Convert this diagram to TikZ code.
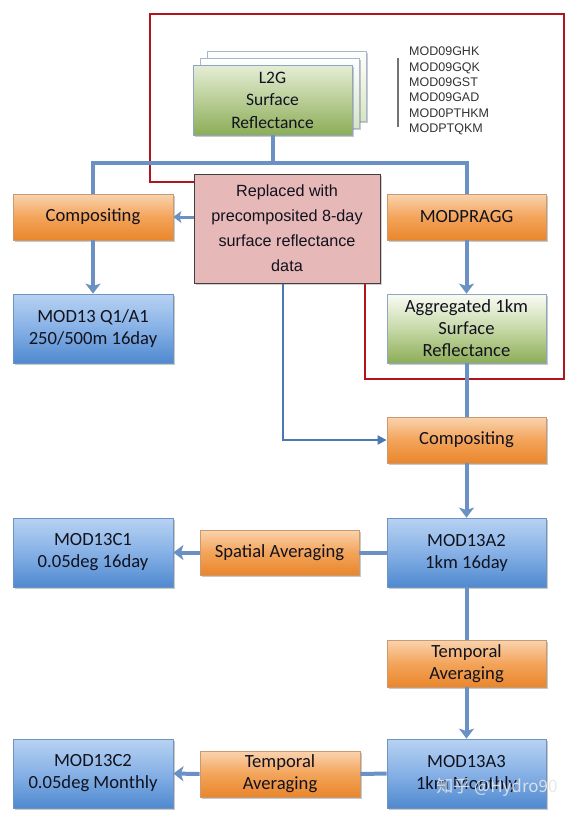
\documentclass[tikz,border=0pt]{standalone}
\usepackage{fontspec}
\setmainfont{Carlito}
\newfontfamily\arialf{Liberation Sans}
\newfontfamily\cjkf{Noto Sans CJK SC}
\usetikzlibrary{arrows.meta,shadows,calc}
\definecolor{orT}{HTML}{FAD3AE}
\definecolor{orM}{HTML}{F3A45A}
\definecolor{orB}{HTML}{E9862C}
\definecolor{orD}{HTML}{C99A70}
\definecolor{blT}{HTML}{B8D2F2}
\definecolor{blM}{HTML}{86B1E6}
\definecolor{blB}{HTML}{4F89CF}
\definecolor{blD}{HTML}{6F93C0}
\definecolor{grT}{HTML}{FAFCF5}
\definecolor{grM}{HTML}{C7D9A8}
\definecolor{grB}{HTML}{8CAD57}
\definecolor{grD}{HTML}{8EA6C4}
\definecolor{pinkF}{HTML}{E6B8B7}
\definecolor{redF}{HTML}{B0141C}
\definecolor{conn}{HTML}{6A90C4}
\definecolor{connT}{HTML}{4A78B0}
\definecolor{txt}{HTML}{12121E}
\definecolor{wmark}{HTML}{E4E6EA}
\begin{document}
\begin{tikzpicture}[x=1pt,y=-1pt,
  box/.style={line width=0.8pt, minimum width=159pt, minimum height=46pt,
    inner sep=0pt, align=center, font=\fontsize{18.6}{22}\selectfont, text=txt,
    drop shadow={shadow xshift=1.5pt, shadow yshift=-2pt, opacity=0.35, fill=black!60}},
  orbox/.style={box, draw=orD, top color=orT, bottom color=orB, middle color=orM},
  blbox/.style={box, draw=blD, minimum height=69pt, top color=blT, bottom color=blB, middle color=blM},
  grbox/.style={box, draw=grD, minimum height=69pt, top color=grT, bottom color=grB, middle color=grM},
  backbox/.style={box, draw=grD!80, minimum height=70pt, top color=white, bottom color=grM!70},
  thick line/.style={draw=conn, line width=4pt},
  arr/.style={thick line, -{Stealth[width=15pt,length=10pt,inset=2.5pt]}},
]
\useasboundingbox[fill=white] (0,0) rectangle (574,823);

% red frame
\coordinate (r1) at (194,182);
\coordinate (r2) at (150,182);
\coordinate (r3) at (150,14);
\coordinate (r4) at (564,14);
\coordinate (r5) at (564,379);
\coordinate (r6) at (365,379);
\coordinate (r7) at (365,283);
\draw[draw=redF, line width=2.5pt, line join=miter] (r1) -- (r2) -- (r3) -- (r4) -- (r5) -- (r6) -- (r7);

% L2G stack
\node[backbox] (l2gb) at (286.5,86) {};
\node[backbox] (l2gm) at (279.5,93) {};
\node[grbox, minimum height=70pt, font=\fontsize{17.5}{22.5}\selectfont, top color=grT!60!grM] (l2g) at (272.5,100) {L2G\\Surface\\Reflectance};

% product list
\draw[draw=black!55, line width=1.5pt] (398,58) coordinate (s1) -- (398,127) coordinate (s2);
\node[anchor=north west, inner sep=0pt, align=left, text=black!80,
  font=\arialf\fontsize{12.5}{15.3}\selectfont] (list) at (409,47)
  {MOD09GHK\\MOD09GQK\\MOD09GST\\MOD09GAD\\MOD0PTHKM\\MODPTQKM};

% boxes
\node[orbox, minimum width=160pt] (comp1) at (93,217) {Compositing};
\node[orbox] (modpragg) at (466.5,217) {MODPRAGG};
\node[draw=black!75, line width=1pt, fill=pinkF, minimum width=186pt, minimum height=109pt,
  inner sep=0pt, align=center, text=txt, font=\arialf\fontsize{16.2}{25}\selectfont,
  drop shadow={shadow xshift=1.5pt, shadow yshift=-2pt, opacity=0.3, fill=black!60}]
  (pink) at (287,228.5) {Replaced with\\precomposited 8-day\\surface reflectance\\data};
\node[blbox, minimum width=160pt] (q1) at (93,328.5) {MOD13 Q1/A1\\250/500m 16day};
\node[grbox] (agg) at (466.5,328.5) {Aggregated 1km\\Surface\\Reflectance};
\node[orbox] (comp2) at (466.5,440) {Compositing};
\node[blbox] (a2) at (466.5,552.5) {MOD13A2\\1km 16day};
\node[blbox, minimum width=160pt] (c1) at (93,552.5) {MOD13C1\\0.05deg 16day};
\node[orbox, minimum height=45pt] (spatial) at (279.5,552.5) {Spatial Averaging};
\node[orbox, minimum height=47pt] (temp1) at (466.5,663.5) {Temporal\\Averaging};
\node[blbox] (a3) at (466.5,773.5) {MOD13A3\\1km Monthly};
\node[blbox, minimum width=160pt] (c2) at (93,773.5) {MOD13C2\\0.05deg Monthly};
\node[orbox, minimum width=160pt] (temp2) at (280,774) {Temporal\\Averaging};

% connectors
\coordinate (hub) at (272.5,163);
\draw[thick line] (l2g.south) -- (hub);
\draw[thick line] (comp1.north) |- (hub) -| (modpragg.north);
\draw[arr] (comp1.south) -- (q1.north);
\draw[arr] (modpragg.south) -- (agg.north);
\draw[draw=conn, line width=3pt, -{Stealth[width=12pt,length=8pt,inset=2pt]}] (pink.west |- comp1.east) -- (comp1.east);
\draw[draw=connT, line width=2pt, -{Triangle[width=9pt,length=9pt]}] ([xshift=-4pt]pink.south) |- (comp2.west);
\draw[thick line] (agg.south) -- (comp2.north);
\draw[arr] (comp2.south) -- (a2.north);
\draw[thick line] (a2.west) -- (spatial.east);
\draw[arr] (spatial.west) -- (c1.east);
\draw[thick line] (a2.south) -- (temp1.north);
\draw[arr] (temp1.south) -- (a3.north);
\draw[thick line] (a3.west) -- (temp2.east);
\draw[arr] (temp2.west) -- (c2.east);

% watermark
\node[font=\cjkf\fontsize{17}{17}\selectfont, text=wmark, opacity=0.9, inner sep=0pt] (wm) at (497,787) {知乎 @Hydro90};
\end{tikzpicture}
\end{document}
